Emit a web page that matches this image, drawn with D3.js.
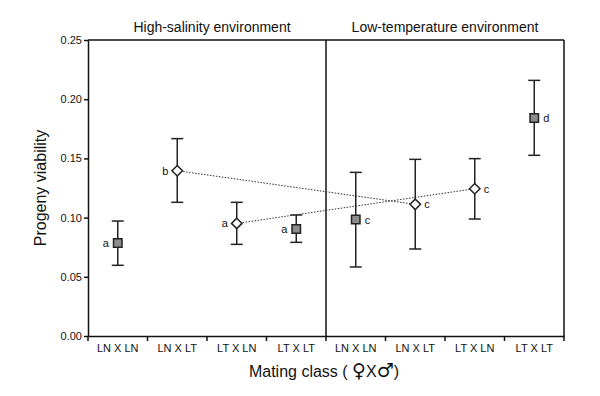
<!DOCTYPE html>
<html>
<head>
<meta charset="utf-8">
<script src="https://cdn.jsdelivr.net/npm/d3@7"></script>
<style>
  body { margin: 0; background: #fff; }
  text { font-family: Arial, "Liberation Sans", sans-serif; fill: #111; }
</style>
</head>
<body>
<div id="chart"></div>
<script>
// data
var classes = ["LN X LN", "LN X LT", "LT X LN", "LT X LT"];
var envs = ["High-salinity environment", "Low-temperature environment"];
var means = [0.0785, 0.1396, 0.0951, 0.0904, 0.0983, 0.1112, 0.1244, 0.1841];
var upper = [0.0971, 0.1667, 0.1129, 0.1022, 0.1382, 0.1492, 0.1498, 0.2159];
var lower = [0.0597, 0.1129, 0.0774, 0.0791, 0.0583, 0.0735, 0.0988, 0.1526];
var shapes = ["square", "diamond", "diamond", "square", "square", "diamond", "diamond", "square"];
var letters = ["a", "b", "a", "a", "c", "c", "c", "d"];
var yTicks = [0, 0.05, 0.10, 0.15, 0.20, 0.25];
// dotted links between the same cross in both environments
var links = [[1, 5], [2, 6]];

var W = 600, H = 396;
var margin = {top: 40, right: 36, bottom: 60, left: 88};
var width = W - margin.left - margin.right;
var height = H - margin.top - margin.bottom;

var svg = d3.select("#chart").append("svg")
    .attr("width", W)
    .attr("height", H);
var g = svg.append("g")
    .attr("transform", "translate(" + margin.left + "," + margin.top + ")");

var keys = d3.range(8);
var x = d3.scaleBand().domain(keys).range([0, width]).padding(0);
var y = d3.scaleLinear().domain([0, 0.25]).range([height, 0]);
var cx = function(i) { return x(i) + x.bandwidth() / 2; };

// axes
var yAxis = g.append("g")
    .call(d3.axisLeft(y).tickValues(yTicks).tickFormat(d3.format(".2f")).tickSize(4).tickSizeOuter(0));
yAxis.select(".domain").attr("stroke", "#111").attr("stroke-width", 1.5);
yAxis.selectAll(".tick line").attr("stroke", "#111").attr("stroke-width", 1.5);
yAxis.selectAll(".tick text").attr("font-size", 11).attr("x", -6).style("font-family", "Arial, 'Liberation Sans', sans-serif").attr("fill", "#111");

var xAxis = g.append("g")
    .attr("transform", "translate(0," + height + ")")
    .call(d3.axisBottom(x).tickFormat(function(d) { return classes[d % 4]; }).tickSize(0).tickSizeOuter(0));
xAxis.select(".domain").attr("stroke", "#111").attr("stroke-width", 1.5);
xAxis.selectAll(".tick text").attr("font-size", 11).attr("dy", "1.15em").style("font-family", "Arial, 'Liberation Sans', sans-serif").attr("fill", "#111");

// tick marks on band edges
g.selectAll(".xtick").data(d3.range(9)).enter().append("line")
    .attr("x1", function(d) { return d * x.bandwidth(); })
    .attr("x2", function(d) { return d * x.bandwidth(); })
    .attr("y1", height).attr("y2", height + 5)
    .attr("stroke", "#111").attr("stroke-width", 1.5);

// frame: top, right, divider
g.append("line").attr("x1", 0).attr("x2", width).attr("y1", 0).attr("y2", 0)
    .attr("stroke", "#111").attr("stroke-width", 1.5);
g.append("line").attr("x1", width).attr("x2", width).attr("y1", 0).attr("y2", height)
    .attr("stroke", "#111").attr("stroke-width", 1.5);
g.append("line").attr("x1", x(4)).attr("x2", x(4)).attr("y1", 0).attr("y2", height)
    .attr("stroke", "#111").attr("stroke-width", 1.5);

// environment titles
g.selectAll(".env").data(envs).enter().append("text")
    .attr("x", function(d, i) { return i === 0 ? x(2) + 5 : x(6); })
    .attr("y", -8)
    .attr("text-anchor", "middle")
    .attr("font-size", 14)
    .text(function(d) { return d; });

// axis titles
svg.append("text")
    .attr("transform", "translate(46," + (margin.top + height / 2) + ") rotate(-90)")
    .attr("text-anchor", "middle")
    .attr("font-size", 16)
    .text("Progeny viability");
var xt = svg.append("text")
    .attr("x", margin.left + x(4) - 2)
    .attr("y", 377)
    .attr("text-anchor", "middle")
    .attr("font-size", 16);
xt.append("tspan").text("Mating class ( ");
xt.append("tspan").attr("font-size", 19).style("font-family", "'Noto Sans', 'DejaVu Sans'").text("\u2640");
xt.append("tspan").text("X");
xt.append("tspan").attr("font-size", 19).style("font-family", "'Noto Sans', 'DejaVu Sans'").text("\u2642");
xt.append("tspan").text(")");

// dotted links
links.forEach(function(p) {
  g.append("line")
    .attr("x1", cx(p[0])).attr("y1", y(means[p[0]]))
    .attr("x2", cx(p[1])).attr("y2", y(means[p[1]]))
    .attr("stroke", "#333").attr("stroke-width", 1)
    .attr("stroke-dasharray", "1.5,1.5");
});

// error bars
var bars = g.selectAll(".err").data(keys).enter().append("g");
bars.append("line")
    .attr("x1", cx).attr("x2", cx)
    .attr("y1", function(i) { return y(upper[i]); })
    .attr("y2", function(i) { return y(lower[i]); })
    .attr("stroke", "#222").attr("stroke-width", 1.5);
bars.append("line")
    .attr("x1", function(i) { return cx(i) - 6; }).attr("x2", function(i) { return cx(i) + 6; })
    .attr("y1", function(i) { return y(upper[i]); }).attr("y2", function(i) { return y(upper[i]); })
    .attr("stroke", "#222").attr("stroke-width", 1.5);
bars.append("line")
    .attr("x1", function(i) { return cx(i) - 6; }).attr("x2", function(i) { return cx(i) + 6; })
    .attr("y1", function(i) { return y(lower[i]); }).attr("y2", function(i) { return y(lower[i]); })
    .attr("stroke", "#222").attr("stroke-width", 1.5);

// markers
var sq = d3.symbol().type(d3.symbolSquare).size(72);
var rhombus = {
  draw: function(ctx, size) {
    var r = Math.sqrt(size / 2);
    ctx.moveTo(0, -r); ctx.lineTo(r, 0); ctx.lineTo(0, r); ctx.lineTo(-r, 0); ctx.closePath();
  }
};
var dm = d3.symbol().type(rhombus).size(55);
g.selectAll(".pt").data(keys).enter().append("path")
    .attr("transform", function(i) { return "translate(" + cx(i) + "," + y(means[i]) + ")"; })
    .attr("d", function(i) { return shapes[i] === "square" ? sq() : dm(); })
    .attr("fill", function(i) { return shapes[i] === "square" ? "#8c8c8c" : "#fff"; })
    .attr("stroke", "#222").attr("stroke-width", 1.5);

// significance letters
g.selectAll(".lett").data(keys).enter().append("text")
    .attr("x", function(i) { return i < 4 ? cx(i) - 9 : cx(i) + 9; })
    .attr("y", function(i) { return y(means[i]) + 4; })
    .attr("text-anchor", function(i) { return i < 4 ? "end" : "start"; })
    .attr("font-size", 11)
    .text(function(i) { return letters[i]; });
</script>
</body>
</html>
